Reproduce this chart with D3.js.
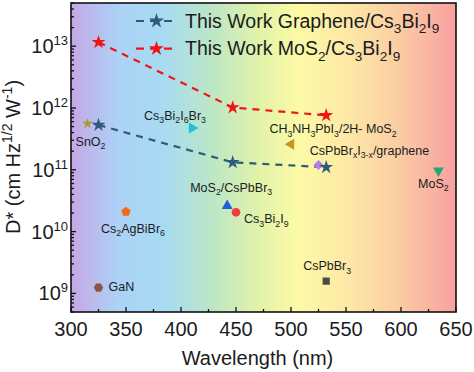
<!DOCTYPE html>
<html>
<head>
<meta charset="utf-8">
<script src="https://cdn.jsdelivr.net/npm/d3@7"></script>
<style>
  body { margin: 0; background: #fff; }
  text { font-family: "Liberation Sans", Arial, sans-serif; fill: #1b1b22; }
</style>
</head>
<body>
<div id="chart-area"></div>
<script>
// this work: two detectors measured at three wavelengths
var workWavelengths = [325, 447, 532];
var grapheneDetectivity = [5.3e11, 1.32e11, 1.1e11];
var mos2Detectivity = [1.16e13, 1.02e12, 7.6e11];
var seriesNames = ["This Work Graphene/Cs_3Bi_2I_9", "This Work MoS_2/Cs_3Bi_2I_9"];

// literature values
var refNames = ["SnO_2", "Cs_3Bi_2I_6Br_3", "CH_3NH_3PbI_3/2H- MoS_2", "CsPbBr_xI_{3-x}/graphene", "MoS_2",
                "MoS_2/CsPbBr_3", "Cs_3Bi_2I_9", "Cs_2AgBiBr_6", "GaN", "CsPbBr_3"];
var refWavelengths = [315, 410, 500, 525, 634, 442, 450, 350, 325, 532];
var refDetectivity = [5.6e11, 4.75e11, 2.6e11, 1.2e11, 0.97e11, 2.6e10, 2.05e10, 2.1e10, 1.24e9, 1.58e9];

var xTicks = [300, 350, 400, 450, 500, 550, 600, 650];
var yTicks = [1e9, 1e10, 1e11, 1e12, 1e13];

// styling of the reference points (same order as refNames)
var refColors = ["#a99b22", "#1fc3d8", "#c8941a", "#b27fe2", "#27a676", "#1f5fd9", "#ef3b3b", "#f56a18", "#8b5546", "#4b4b4b"];
var refShapes = ["star", "triRight", "triLeft", "diamond", "triDown", "triUp", "circle", "pentagon", "hexagon", "square"];
// label offset from marker: [dx, dy, anchor]
var refLabelPos = [[3, 22, "middle"], [-17, -8, "middle"], [42, -11, "middle"], [51, -10, "middle"], [-5, 17, "middle"],
                   [4, -14, "middle"], [8, 11, "start"], [7, 21, "middle"], [10, 3, "start"], [1, -11, "middle"]];

var W = 474, H = 372;
var margin = {top: 3, right: 18, bottom: 60, left: 71};
var width = W - margin.left - margin.right;
var height = H - margin.top - margin.bottom;

var svg = d3.select("#chart-area").append("svg")
    .attr("width", W)
    .attr("height", H);

var x = d3.scaleLinear().domain([300, 650]).range([0, width]);
var y = d3.scaleLog().domain([5e8, 5e13]).range([height, 0]);

var g = svg.append("g").attr("transform", "translate(" + margin.left + "," + margin.top + ")");

// spectrum background
var grad = svg.append("defs").append("linearGradient")
    .attr("id", "spectrum").attr("x1", "0%").attr("x2", "100%").attr("y1", "0%").attr("y2", "0%");
[[0, "#c6a7e6"], [0.12, "#acd2f6"], [0.24, "#a7dbf2"], [0.37, "#bde7c4"], [0.49, "#e2f3a9"],
 [0.59, "#fcfaa6"], [0.72, "#fde8a6"], [0.85, "#fbcda4"], [1, "#f8a1a0"]].forEach(function(s) {
    grad.append("stop").attr("offset", s[0]).attr("stop-color", s[1]);
});
g.append("rect").attr("width", width).attr("height", height).attr("fill", "url(#spectrum)");

// text with _sub / ^sup markup
function richText(sel, str, size) {
    var parts = str.match(/[_^]\{[^}]*\}|[_^][^_^{]|[^_^]+/g);
    var shift = 0;
    parts.forEach(function(p) {
        var t = sel.append("tspan");
        if (p[0] === "_" || p[0] === "^") {
            var content = p[1] === "{" ? p.slice(2, -1) : p.slice(1);
            var target = p[0] === "_" ? size * 0.28 : -size * 0.38;
            t.attr("dy", target - shift).attr("font-size", size * 0.7).text(content);
            shift = target;
        } else {
            t.attr("dy", -shift).attr("font-size", size).text(p);
            shift = 0;
        }
    });
}

// polygon symbol types
function polygon(n, rot) {
    return {
        draw: function(ctx, size) {
            var r = Math.sqrt(size / (0.5 * n * Math.sin(2 * Math.PI / n)));
            for (var i = 0; i < n; i++) {
                var a = rot + i * 2 * Math.PI / n;
                if (i === 0) ctx.moveTo(r * Math.cos(a), r * Math.sin(a));
                else ctx.lineTo(r * Math.cos(a), r * Math.sin(a));
            }
            ctx.closePath();
        }
    };
}
var shapeTypes = {
    star: [d3.symbolStar, 0, 34],
    triRight: [d3.symbolTriangle, 90, 52],
    triLeft: [d3.symbolTriangle, -90, 52],
    triDown: [d3.symbolTriangle, 180, 52],
    triUp: [d3.symbolTriangle, 0, 52],
    diamond: [polygon(4, 0), 0, 50],
    circle: [d3.symbolCircle, 0, 58],
    pentagon: [polygon(5, -Math.PI / 2), 0, 58],
    hexagon: [polygon(6, 0), 0, 58],
    square: [d3.symbolSquare, 0, 52]
};

// series lines
var line = d3.line()
    .x(function(d) { return x(d[0]); })
    .y(function(d) { return y(d[1]); });

var series = [
    {values: d3.zip(workWavelengths, grapheneDetectivity), color: "#2e5b79"},
    {values: d3.zip(workWavelengths, mos2Detectivity), color: "#f01414"}
];

series.forEach(function(s) {
    g.append("path")
        .attr("d", line(s.values))
        .attr("fill", "none")
        .attr("stroke", s.color)
        .attr("stroke-width", 2.2)
        .attr("stroke-dasharray", "7,6");
});

// reference points
refNames.forEach(function(name, i) {
    var st = shapeTypes[refShapes[i]];
    var px = x(refWavelengths[i]), py = y(refDetectivity[i]);
    g.append("path")
        .attr("d", d3.symbol().type(st[0]).size(st[2])())
        .attr("transform", "translate(" + px + "," + py + ") rotate(" + st[1] + ")")
        .attr("fill", refColors[i]);
    var lp = refLabelPos[i];
    var t = g.append("text")
        .attr("x", px + lp[0])
        .attr("y", py + lp[1])
        .attr("text-anchor", lp[2]);
    richText(t, name, 12.5);
});

series.forEach(function(s) {
    g.selectAll(null)
        .data(s.values)
        .enter()
        .append("path")
            .attr("d", d3.symbol().type(d3.symbolStar).size(60)())
            .attr("transform", function(d) { return "translate(" + x(d[0]) + "," + y(d[1]) + ")"; })
            .attr("fill", s.color);
});

// legend
var legend = g.append("g");
series.forEach(function(s, i) {
    var ly = 18 + i * 27.6;
    legend.append("line")
        .attr("x1", 64).attr("x2", 104).attr("y1", ly).attr("y2", ly)
        .attr("stroke", s.color).attr("stroke-width", 2.2)
        .attr("stroke-dasharray", "8,6").attr("stroke-dashoffset", -1);
    legend.append("path")
        .attr("d", d3.symbol().type(d3.symbolStar).size(70)())
        .attr("transform", "translate(85.5," + ly + ")")
        .attr("fill", s.color);
    var t = legend.append("text").attr("x", 114).attr("y", ly + 6.8);
    richText(t, seriesNames[i], 19.5);
});

// axes: ticks point inward
var xMinor = d3.range(300, 651, 25);
g.selectAll(".xtick")
    .data(xMinor)
    .enter()
    .append("line")
        .attr("x1", function(d) { return x(d); })
        .attr("x2", function(d) { return x(d); })
        .attr("y1", height)
        .attr("y2", function(d) { return height - (d % 50 === 0 ? 5 : 3); })
        .attr("stroke", "#111").attr("stroke-width", 1.3);

g.selectAll(".xlabel")
    .data(xTicks)
    .enter()
    .append("text")
        .attr("x", function(d) { return x(d); })
        .attr("y", height + 23.5)
        .attr("text-anchor", "middle")
        .attr("font-size", 20)
        .text(function(d) { return d; });

var yMinor = [];
[8, 9, 10, 11, 12, 13].forEach(function(e) {
    for (var m = 1; m < 10; m++) {
        var v = m * Math.pow(10, e);
        if (v >= 5e8 && v <= 5e13) yMinor.push(v);
    }
});
g.selectAll(".ytick")
    .data(yMinor)
    .enter()
    .append("line")
        .attr("x1", 0)
        .attr("x2", function(d) { return Math.abs(Math.log10(d) % 1) < 1e-9 ? 5 : 3; })
        .attr("y1", function(d) { return y(d); })
        .attr("y2", function(d) { return y(d); })
        .attr("stroke", "#111").attr("stroke-width", 1.3);

yTicks.forEach(function(v) {
    var t = g.append("text")
        .attr("x", -3)
        .attr("y", y(v) + 7)
        .attr("text-anchor", "end");
    t.append("tspan").attr("font-size", 20).text("10");
    t.append("tspan").attr("font-size", 13).attr("dy", -8).text(Math.round(Math.log10(v)));
});

// frame
g.append("rect")
    .attr("width", width).attr("height", height)
    .attr("fill", "none").attr("stroke", "#111").attr("stroke-width", 1.6);

// titles
svg.append("text")
    .attr("x", margin.left + width / 2 - 6)
    .attr("y", 365)
    .attr("text-anchor", "middle")
    .attr("font-size", 20)
    .text("Wavelength (nm)");

var yt = svg.append("text")
    .attr("transform", "translate(20,157) rotate(-90)")
    .attr("text-anchor", "middle");
richText(yt, "D* (cm Hz^{1/2} W^{-1})", 20);
</script>
</body>
</html>
